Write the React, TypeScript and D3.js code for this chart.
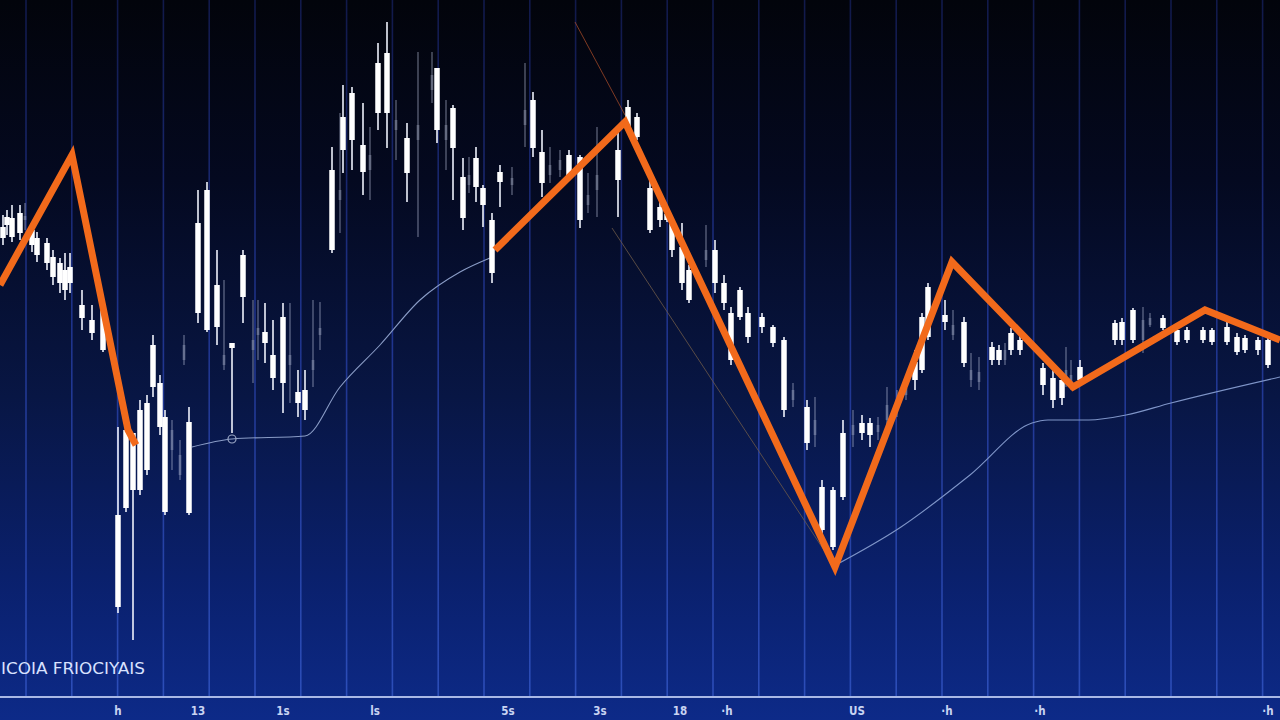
import React from "react";
import * as d3 from "d3";

const W = 1280;
const H = 720;

// Candles: [time, open, high, low, close]
const candles: number[][] = [
  [1.5, 462, 485, 455, 473], [3.5, 475, 490, 465, 483], [6, 463, 495, 458, 482], [10, 467, 495, 460, 487],
  [16, 455, 475, 448, 470], [18.5, 445, 468, 438, 462], [23.5, 437, 462, 430, 457], [26.5, 423, 450, 415, 443],
  [30, 417, 442, 407, 437], [32.5, 410, 447, 400, 430], [35, 417, 447, 407, 433], [41, 382, 410, 370, 395],
  [46, 367, 395, 360, 380], [51.5, 350, 400, 348, 395],
  [59, 93, 273, 87, 185], [63, 192, 275, 188, 270], [66.5, 210, 267, 60, 267], [70, 210, 300, 205, 290],
  [73.5, 230, 305, 225, 297], [76.5, 313, 365, 303, 355], [80, 273, 325, 265, 317], [82.5, 188, 290, 185, 283],
  [94.5, 187, 293, 185, 278],
  [99, 387, 510, 377, 477], [103.5, 370, 518, 368, 510], [108.5, 373, 450, 355, 415], [116, 352, 357, 267, 357],
  [121.5, 403, 450, 377, 445], [132.5, 357, 397, 337, 368], [136.5, 322, 380, 310, 345], [141.5, 317, 397, 287, 383],
  [149, 297, 330, 283, 308], [152.5, 290, 330, 280, 310],
  [166, 450, 553, 447, 530], [171.5, 550, 615, 527, 583], [176, 560, 613, 530, 607], [181.5, 528, 597, 505, 555],
  [189, 587, 657, 570, 637], [193.5, 587, 678, 552, 647], [203.5, 527, 577, 498, 562], [218.5, 570, 632, 557, 632],
  [226.5, 552, 595, 500, 592], [231.5, 482, 542, 470, 523], [238, 513, 553, 498, 542], [241.5, 495, 515, 473, 512],
  [246, 427, 487, 417, 480], [250, 518, 535, 493, 528], [266.5, 552, 608, 543, 600], [271, 517, 570, 503, 548],
  [284.5, 525, 550, 522, 545], [290, 480, 545, 472, 543], [309, 520, 570, 483, 550], [314, 573, 600, 567, 593],
  [318.5, 563, 587, 560, 583], [325, 470, 520, 467, 512], [330, 480, 500, 473, 493], [333.5, 480, 490, 478, 486],
  [336, 450, 482, 443, 477], [341, 417, 477, 410, 453], [344.5, 400, 435, 397, 430], [357.5, 417, 460, 407, 450],
  [362, 397, 425, 390, 417], [365.5, 340, 393, 335, 387], [370, 383, 413, 380, 410], [374, 363, 393, 357, 387],
  [381, 373, 387, 367, 383], [386.5, 357, 375, 353, 373], [392, 290, 363, 283, 360], [403.5, 257, 300, 250, 293],
  [411, 170, 220, 160, 213], [416.5, 153, 213, 150, 210], [421.5, 203, 280, 200, 267], [431, 267, 285, 260, 277],
  [435, 265, 282, 253, 277], [457.5, 320, 350, 310, 338], [461, 330, 387, 327, 383], [464, 363, 417, 360, 413],
  [472.5, 378, 400, 370, 385], [482, 337, 383, 333, 378], [496, 340, 358, 335, 353], [499.5, 340, 355, 335, 350],
  [505.5, 350, 372, 345, 367], [510, 350, 365, 345, 360], [521.5, 315, 337, 305, 332], [526.5, 300, 330, 292, 322],
  [531, 302, 325, 295, 320], [540, 320, 340, 315, 333], [557.5, 360, 380, 355, 377], [561, 360, 382, 355, 378],
  [566.5, 360, 392, 357, 390], [581.5, 372, 385, 370, 382], [588.5, 358, 373, 355, 370], [593.5, 360, 373, 357, 370],
  [601.5, 360, 373, 357, 370], [606, 358, 372, 355, 370], [613.5, 358, 378, 355, 373], [618.5, 348, 367, 345, 363],
  [622.5, 350, 365, 347, 362], [629, 350, 363, 345, 360], [634, 335, 365, 332, 360],
];

// Faint (grey) candles: [time, open, high, low, close]
const faintCandles: number[][] = [
  [12.5, 480, 497, 470, 484], [86, 250, 280, 230, 270], [90, 225, 260, 220, 245], [92, 340, 365, 335, 355],
  [112, 335, 420, 330, 345], [126.5, 350, 400, 317, 360], [129, 365, 400, 340, 372], [145, 335, 397, 297, 345],
  [156.5, 330, 400, 313, 340], [160, 365, 398, 350, 372], [170, 500, 587, 467, 510], [185, 530, 573, 500, 545],
  [198, 570, 600, 540, 580], [209, 560, 648, 463, 575], [216, 610, 648, 597, 625], [223, 560, 600, 530, 575],
  [234.5, 515, 543, 507, 525], [256, 515, 533, 505, 522], [262.5, 575, 637, 553, 590], [275, 525, 553, 517, 535],
  [280, 530, 550, 523, 540], [294, 495, 527, 487, 505], [298.5, 510, 573, 483, 525], [353, 440, 475, 433, 450],
  [396.5, 300, 317, 293, 310], [407.5, 265, 303, 253, 280], [426.5, 265, 290, 253, 275], [439, 268, 283, 260, 275],
  [443.5, 280, 313, 270, 295], [448.5, 290, 310, 283, 300], [453, 305, 320, 300, 312], [476.5, 365, 390, 360, 375],
  [485.5, 320, 347, 313, 330], [489.5, 318, 343, 310, 328], [502.5, 340, 357, 335, 350], [533, 320, 353, 313, 330],
  [535.5, 315, 340, 310, 325], [571.5, 360, 393, 347, 380], [575, 375, 387, 373, 382],
];

// Orange zig-zag (pivot) line, two pieces: [time, price]
const zigzagA: number[][] = [[0, 415], [36, 545], [64, 270], [68, 255]];
const zigzagB: number[][] = [[247.5, 450], [312.5, 578], [417.5, 133], [476, 438], [536.5, 313], [602.5, 390], [640, 360]];

// Thin moving-average line, two pieces
const maA: number[][] = [[96, 253], [116, 261], [152.5, 264], [170, 313], [190, 355], [210, 400], [230, 428], [245, 442]];
const maB: number[][] = [[416, 133], [450.5, 173], [485, 225], [516, 277], [524, 280], [544.5, 280], [563, 285], [585.5, 297], [640, 323]];
const maMarker: number[] = [116, 261];

// Faint trend lines
const trendUpper: number[][] = [[287.5, 678], [312.5, 585]];
const trendLower: number[][] = [[306, 472], [417.5, 133]];

// Vertical grid
const gridStart = 13;
const gridStep = 22.9;

// Axis ticks
const tickTimes = [59, 99, 141.5, 187.5, 254, 300, 340, 363.5, 428.5, 473.5, 520, 634];
const tickLabels = ["h", "13", "1s", "ls", "5s", "3s", "18", "·h", "US", "·h", "·h", "·h"];
const title = "ICOIA FRIOCIYAIS";

export default function App() {
  const x = d3.scaleLinear().domain([0, 640]).range([0, W]);
  const y = d3.scaleLinear().domain([3, 700]).range([697, 0]);
  const line = d3.line<number[]>().x((d) => x(d[0])).y((d) => y(d[1]));
  const smooth = d3.line<number[]>().x((d) => x(d[0])).y((d) => y(d[1])).curve(d3.curveMonotoneX);
  const grid = d3.range(gridStart, 640, gridStep);
  const axisY = y(3);

  const drawCandle = (c: number[], i: number, faint: boolean) => {
    const [t, o, h, l, cl] = c;
    const cx = x(t);
    const top = y(Math.max(o, cl));
    const bh = Math.max(1.5, Math.abs(y(o) - y(cl)));
    const bw = faint ? 2.5 : 5.5;
    return (
      <g key={(faint ? "f" : "c") + i} opacity={faint ? 0.5 : 1}>
        <line x1={cx} x2={cx} y1={y(h)} y2={y(l)} stroke={faint ? "#c4cce4" : "#eef1fb"} strokeWidth={faint ? 1.2 : 1.6} />
        <rect x={cx - bw / 2} y={top} width={bw} height={bh} fill={faint ? "#c4cce4" : "#ffffff"} />
      </g>
    );
  };

  return (
    <svg width={W} height={H} style={{ position: "fixed", left: 0, top: 0, display: "block" }}>
      <defs>
        <linearGradient id="bg" x1="0" y1="0" x2="0" y2="1">
          <stop offset="0%" stopColor="#02040b" />
          <stop offset="25%" stopColor="#040920" />
          <stop offset="55%" stopColor="#081644" />
          <stop offset="80%" stopColor="#0a206c" />
          <stop offset="100%" stopColor="#0d2a88" />
        </linearGradient>
        <linearGradient id="gridG" gradientUnits="userSpaceOnUse" x1="0" y1="0" x2="0" y2={H}>
          <stop offset="0%" stopColor="#141d55" />
          <stop offset="45%" stopColor="#23399a" />
          <stop offset="100%" stopColor="#3356c4" />
        </linearGradient>
      </defs>
      <rect x={0} y={0} width={W} height={H} fill="url(#bg)" />
      {grid.map((g, i) => (
        <line key={"g" + i} x1={x(g)} x2={x(g)} y1={0} y2={axisY} stroke="url(#gridG)" strokeWidth={1.6} opacity={0.85} />
      ))}
      <path d={smooth(maA) || ""} fill="none" stroke="#8a9cc6" strokeWidth={1.1} />
      <path d={smooth(maB) || ""} fill="none" stroke="#7f95c8" strokeWidth={1.1} />
      <circle cx={x(maMarker[0])} cy={y(maMarker[1])} r={4} fill="none" stroke="#9aa6c4" strokeWidth={1.2} />
      <path d={line(trendUpper) || ""} fill="none" stroke="#b4502a" strokeWidth={1} opacity={0.7} />
      <path d={line(trendLower) || ""} fill="none" stroke="#6e5a48" strokeWidth={1} opacity={0.8} />
      {faintCandles.map((c, i) => drawCandle(c, i, true))}
      {candles.map((c, i) => drawCandle(c, i, false))}
      <path d={line(zigzagA) || ""} fill="none" stroke="#f26a1b" strokeWidth={7} strokeLinejoin="miter" strokeLinecap="butt" />
      <path d={line(zigzagB) || ""} fill="none" stroke="#f26a1b" strokeWidth={7} strokeLinejoin="miter" strokeLinecap="butt" />
      <line x1={0} x2={W} y1={axisY} y2={axisY} stroke="#a9b8e6" strokeWidth={2} />
      {tickTimes.map((t, i) => (
        <text key={"t" + i} x={Math.min(x(t), W - 8)} y={axisY + 18} textAnchor="middle" fontFamily="DejaVu Sans Condensed, DejaVu Sans, sans-serif" fontSize={11.5} fontWeight="bold" fill="#c9d4f2">
          {tickLabels[i]}
        </text>
      ))}
      <text x={1} y={674} fontFamily="Liberation Sans Narrow, DejaVu Sans Condensed, sans-serif" fontSize={16} fill="#d9e2ff" textLength={144} lengthAdjust="spacingAndGlyphs">
        {title}
      </text>
    </svg>
  );
}
